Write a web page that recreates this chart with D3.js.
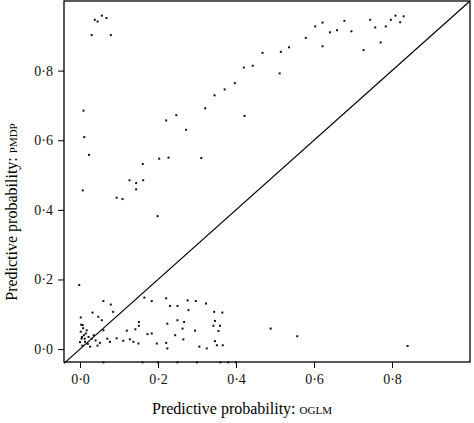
<!DOCTYPE html>
<html><head><meta charset="utf-8">
<script src="https://cdn.jsdelivr.net/npm/d3@7"></script>
<style>body{margin:0;background:#fff}text{font-family:"Liberation Serif",serif}</style>
</head><body><svg id="chart"></svg>
<script>
// data: [oglm, pmdp]
const upperPoints = [
  [0.038,0.946],[0.045,0.941],[0.056,0.958],[0.068,0.951],[0.030,0.902],[0.079,0.902],
  [0.009,0.685],[0.011,0.609],[0.023,0.558],[0.007,0.456],[0.094,0.435],[0.109,0.431],
  [0.127,0.485],[0.144,0.477],[0.162,0.485],[0.144,0.459],[0.161,0.532],[0.203,0.547],
  [0.227,0.550],[0.221,0.657],[0.247,0.672],[0.272,0.630],[0.311,0.549],[0.199,0.382],
  [0.321,0.692],[0.345,0.729],[0.371,0.746],[0.397,0.764],[0.420,0.809],[0.443,0.814],
  [0.422,0.670],[0.468,0.851],[0.515,0.854],[0.512,0.792],[0.536,0.867],[0.579,0.894],
  [0.603,0.927],[0.622,0.938],[0.622,0.870],[0.641,0.910],[0.659,0.916],[0.678,0.943],
  [0.696,0.913],[0.727,0.859],[0.744,0.946],[0.757,0.924],[0.771,0.881],[0.784,0.927],
  [0.797,0.946],[0.809,0.958],[0.821,0.939],[0.830,0.956]
];
const lowerPoints = [
  [-0.002,0.184],[0.060,0.138],[0.079,0.128],[0.032,0.105],[0.002,0.091],[0.047,0.093],
  [0.056,0.083],[0.085,0.107],[0.165,0.148],[0.184,0.138],[0.221,0.146],[0.231,0.124],
  [0.250,0.124],[0.276,0.140],[0.297,0.138],[0.323,0.131],[0.278,0.112],[0.344,0.107],
  [0.365,0.105],[0.151,0.078],[0.151,0.067],[0.224,0.073],[0.250,0.083],[0.267,0.078],
  [0.346,0.081],[0.359,0.067],[0.342,0.067],[0.263,0.059],[0.295,0.053],[0.355,0.052],
  [0.120,0.053],[0.142,0.057],[0.060,0.054],[0.007,0.069],[0.017,0.054],[0.005,0.035],
  [0.013,0.021],[0.026,0.007],[0.051,0.018],[0.077,0.021],[0.094,0.031],[0.111,0.024],
  [0.128,0.028],[0.137,0.021],[0.150,0.016],[0.173,0.043],[0.184,0.045],[0.197,0.016],
  [0.221,0.018],[0.224,0.002],[0.244,0.040],[0.265,0.028],[0.306,0.007],[0.325,0.002],
  [0.346,0.023],[0.351,0.011],[0.366,0.011],[0.489,0.059],[0.557,0.037],[0.840,0.009],
  [0.000,0.020],[0.002,0.050],[0.004,0.030],[0.003,0.070],[0.006,0.010],[0.010,0.040],
  [0.008,0.060],[0.012,0.030],[0.015,0.045],[0.020,0.015],[0.030,0.030],[0.040,0.025],
  [0.035,0.040],[0.022,0.035],[0.070,0.030],[0.045,0.010]
];
const axisPoints = [[0.06,-0.038],[0.16,-0.038],[0.20,-0.038],[0.25,-0.038],[0.30,-0.038],[0.36,-0.038],[0.38,-0.038],[0.40,-0.038]];
const tickValues = [0, 0.2, 0.4, 0.6, 0.8];
const xLabel = "Predictive probability: ", xCaps = "oglm";
const yLabel = "Predictive probability: ", yCaps = "pmdp";

const width = 474, height = 423;
const mLeft = 64, mRight = 470, mTop = 1, mBottom = 362;

const svg = d3.select("#chart").attr("width", width).attr("height", height);

const x = d3.scaleLinear().domain([-0.041, 1.0]).range([mLeft, mRight]);
const y = d3.scaleLinear().domain([-0.037, 1.0]).range([mBottom, mTop]);

const fmt = d => d3.format(".1f")(d).replace(".", "\u00b7");

const xAxis = svg.append("g").attr("transform", `translate(0,${mBottom})`)
    .call(d3.axisBottom(x).tickValues(tickValues).tickFormat(fmt).tickSize(6).tickPadding(6));
const yAxis = svg.append("g").attr("transform", `translate(${mLeft},0)`)
    .call(d3.axisLeft(y).tickValues(tickValues).tickFormat(fmt).tickSize(6).tickPadding(5));
[xAxis, yAxis].forEach(a => {
    a.select(".domain").remove();
    a.selectAll("text").style("font-family", "Liberation Serif").style("font-size", "14px").attr("fill", "#111");
});

// frame
svg.append("rect").attr("x", mLeft).attr("y", mTop).attr("width", mRight - mLeft).attr("height", mBottom - mTop)
    .attr("fill", "none").attr("stroke", "#000").attr("stroke-width", 1.3);

// identity line
svg.append("line")
    .attr("x1", x(-0.041)).attr("y1", y(-0.041))
    .attr("x2", x(1.0)).attr("y2", y(1.0))
    .attr("stroke", "#000").attr("stroke-width", 1.2);

svg.append("g").selectAll("rect")
    .data(upperPoints.concat(lowerPoints, axisPoints))
    .enter().append("rect")
    .attr("x", d => x(d[0]) - 1).attr("y", d => y(d[1]) - 1)
    .attr("width", 2).attr("height", 2)
    .attr("fill", "#111");

const xt = svg.append("text").attr("x", 242).attr("y", 414).attr("text-anchor", "middle")
    .style("font-size", "16px");
xt.append("tspan").text(xLabel);
xt.append("tspan").style("font-variant", "small-caps").text(xCaps);

const yt = svg.append("text").attr("transform", "translate(17,212) rotate(-90)").attr("text-anchor", "middle")
    .style("font-size", "16px");
yt.append("tspan").text(yLabel);
yt.append("tspan").style("font-variant", "small-caps").text(yCaps);
</script></body></html>
